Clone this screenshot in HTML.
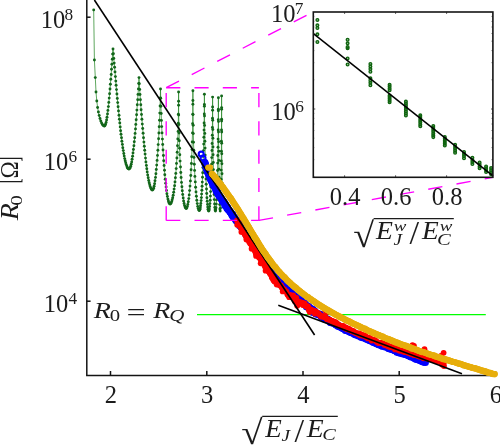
<!DOCTYPE html>
<html lang="en"><head><meta charset="utf-8"><title>R0 vs sqrt(EJ/EC)</title>
<style>html,body{margin:0;padding:0;background:#fff}body{width:500px;height:445px;overflow:hidden}</style></head>
<body>
<svg width="500" height="445" viewBox="0 0 500 445" style="display:block;font-family:'Liberation Serif', 'DejaVu Serif', serif">
<defs>
<marker id="mg" markerWidth="4" markerHeight="4" refX="2" refY="2" markerUnits="userSpaceOnUse"><circle cx="2" cy="2" r="1.45" fill="#12661a"/></marker>
<marker id="mb" markerWidth="9" markerHeight="9" refX="4.5" refY="4.5" markerUnits="userSpaceOnUse"><circle cx="4.5" cy="4.5" r="2.5" fill="none" stroke="#0000ff" stroke-width="2.1"/></marker>
<marker id="mr" markerWidth="8" markerHeight="8" refX="4" refY="4" markerUnits="userSpaceOnUse"><circle cx="4" cy="4" r="2.9" fill="#ff0000"/></marker>
<marker id="my" markerWidth="8" markerHeight="8" refX="4" refY="4" markerUnits="userSpaceOnUse"><circle cx="4" cy="4" r="3.1" fill="#e7ae0c"/></marker>
<marker id="mi" markerWidth="6" markerHeight="6" refX="3" refY="3" markerUnits="userSpaceOnUse"><circle cx="3" cy="3" r="1.35" fill="#146b14" fill-opacity="0.45" stroke="#0f640f" stroke-width="1.35"/></marker>
</defs>
<rect width="500" height="445" fill="#fff"/>
<g stroke="#141414" stroke-width="1.5" fill="none">
<path d="M86.8 0V375.4H495"/>
<line x1="110.5" y1="375.4" x2="110.5" y2="371"/>
<line x1="206.8" y1="375.4" x2="206.8" y2="371"/>
<line x1="303" y1="375.4" x2="303" y2="371"/>
<line x1="399.2" y1="375.4" x2="399.2" y2="371"/>
<line x1="495.5" y1="375.4" x2="495.5" y2="371"/>
<line x1="86.8" y1="17.2" x2="90.6" y2="17.2"/>
<line x1="86.8" y1="159.2" x2="90.6" y2="159.2"/>
<line x1="86.8" y1="301.2" x2="90.6" y2="301.2"/>
</g>
<polyline points="93.7,9.9 94.4,60 95.3,77.6 96,92 96.8,101 97.6,107.5 98.4,112 99.2,115.5 100,118.5 100.8,121 101.6,123 102.4,124.4 103.2,125.4 104,125.9 104.4,126 105,125.5 105.5,124.3 106.1,122.4 106.6,120 107,117.2 107.5,114 107.9,110.4 108.4,106.6 108.8,102.4 109.2,98.1 109.6,93.8 110,89 110.4,84.2 110.8,79.3 111.2,74.5 111.5,69.3 111.9,64.3 112.3,59.3 112.6,54.1 113,49 113.4,53.7 113.8,58.4 114.2,63.1 114.6,67.3 115,71.9 115.4,76.6 115.8,81.1 116.1,85.2 116.5,89.6 116.9,94 117.3,98.4 117.7,102.6 118.1,106.8 118.5,110.9 119,115.3 119.4,119.2 119.8,122.9 120.2,126.9 120.6,130.8 121,134.2 121.5,137.8 121.9,141.2 122.4,144.4 122.8,147.7 123.3,150.6 123.8,153.5 124.2,156.1 124.7,158.6 125.2,160.7 125.7,162.8 126.2,164.6 126.8,166.1 127.3,167.4 127.8,168.2 128.4,168.8 129,169 129.6,168.6 130.2,167.7 130.7,166.2 131.2,164.2 131.7,161.9 132.1,159.2 132.6,156.3 133,152.9 133.4,149.5 133.9,145.7 134.3,141.8 134.7,137.8 135.1,133.4 135.5,128.9 135.8,124.4 136.2,119.7 136.6,114.8 136.9,110.1 137.3,104.8 137.7,99.7 138,94.4 138.4,88.9 138.7,83.4 139,77.6 139.3,83.7 139.7,89.5 140,94.5 140.4,99.7 140.8,104.8 141.1,109.7 141.5,114.5 141.9,119.2 142.3,124.1 142.7,128.5 143.1,133.2 143.5,137.7 143.9,142.1 144.3,146.3 144.7,150.3 145.1,154.1 145.5,158.1 145.9,161.9 146.4,165.4 146.8,168.8 147.2,171.9 147.7,175 148.2,177.8 148.7,180.5 149.2,182.7 149.7,184.8 150.2,186.6 150.7,188.1 151.3,189.1 151.8,189.8 152.4,190 153,189.5 153.6,188.2 154.1,186.3 154.6,183.8 155,180.8 155.5,177.4 155.9,173.7 156.3,169.5 156.7,165.1 157.1,160.4 157.5,155.4 157.9,150.2 158.2,144.6 158.6,138.8 158.9,133 159.2,126.7 159.5,120.3 159.8,113.1 160.1,106 160.3,98 160.5,89 160.7,98.3 160.9,106.3 161.2,113.5 161.4,120.4 161.7,126.6 162,132.9 162.4,139.1 162.7,144.5 163,150 163.4,155.5 163.7,160.7 164.1,165.5 164.5,170.3 164.8,174.8 165.2,179.2 165.7,183.3 166.1,186.9 166.5,190.4 166.9,193.7 167.4,196.5 167.9,199.1 168.4,201 168.9,202.6 169.4,203.6 170,204 170.6,203.7 171.2,202.9 171.7,201.6 172.2,199.8 172.7,197.7 173.2,195.2 173.7,192.3 174.1,189.1 174.6,185.7 175,181.9 175.4,177.7 175.8,173.4 176.2,168.6 176.5,163.4 176.9,158 177.2,152.3 177.5,145.7 177.8,138.9 178.1,131.4 178.3,123.3 178.4,114.2 178.6,101.3 178.6,92 178.6,105.2 178.7,115.1 178.9,124.6 179.1,133 179.3,140.8 179.6,148.3 179.8,154.7 180.1,161.1 180.5,167 180.8,172.5 181.1,177.5 181.5,182.4 181.9,186.7 182.3,190.8 182.7,194.5 183.2,197.9 183.6,200.9 184.1,203.5 184.6,205.6 185.1,207.1 185.6,208.1 186.2,208.5 186.8,208 187.3,206.6 187.8,204.5 188.3,201.8 188.8,198.6 189.2,194.9 189.6,190.6 190,186.1 190.4,180.9 190.8,175.5 191.1,169.7 191.4,163.5 191.7,156.7 192,149.6 192.2,141.9 192.5,132.9 192.6,123.7 192.8,114.2 192.9,100.5 192.9,90.8 192.9,104.3 193,114.6 193.2,125.2 193.3,133.6 193.5,142.2 193.8,150.2 194,157.4 194.3,164.3 194.6,170.4 194.9,176.4 195.3,181.9 195.6,187.3 196,191.9 196.4,196.3 196.8,200.2 197.3,203.6 197.7,206.4 198.2,208.6 198.7,210 199.3,210.5 199.6,210.1 200,209.2 200.3,207.7 200.5,205.7 200.8,203.4 201.1,200.6 201.4,197.6 201.6,194.1 201.9,190.3 202.1,186.2 202.3,182.1 202.5,177.3 202.7,172.7 202.9,167.6 203.2,162.1 203.3,156.4 203.5,150.6 203.7,144.1 203.9,137.3 204,130.1 204.1,123 204.3,113.9 204.4,104.4 204.4,94.3 204.4,106.2 204.5,116 204.6,125.4 204.8,133.4 204.9,141.3 205.1,148.1 205.2,155.1 205.4,161.7 205.6,167.9 205.8,173.6 206,179 206.2,184.2 206.5,189 206.7,193.5 206.9,197.7 207.2,201.2 207.5,204.4 207.7,207.1 208,209.2 208.4,210.5 208.7,211 209,210.4 209.3,208.9 209.6,206.5 209.9,203.6 210.2,200.2 210.4,196.1 210.6,191.6 210.8,186.9 211.1,181.6 211.3,176.2 211.4,170.2 211.6,164.3 211.8,157.6 212,150.5 212.1,143.5 212.3,135.3 212.4,127.4 212.5,118.3 212.6,107 212.6,97.1 212.6,110.2 212.7,120.2 212.8,129.5 212.9,138.2 213,146.9 213.1,154.8 213.3,162.5 213.4,169.6 213.6,176.5 213.7,183.1 213.9,189.1 214.1,194.5 214.3,199.6 214.6,204 214.8,207.5 215.1,210 215.4,211 215.7,210 216,207.7 216.3,204.1 216.5,199.9 216.8,195 217,189.5 217.2,183.5 217.3,177.3 217.5,170.5 217.7,163.1 217.8,155.5 218,147.2 218.1,139.1 218.2,130 218.3,119.8 218.4,109.2 218.4,97.7 218.4,110.7 218.5,121.6 218.5,132 218.6,141.8 218.7,151.3 218.8,160.5 218.9,169.2 219,177.3 219.2,185 219.3,192.3 219.5,198.8 219.7,204.6 219.9,209 220.2,211 220.5,208.1 220.7,202.4 220.8,195.4 221,187.6 221.1,179.2 221.2,170.1 221.3,160.9 221.4,151.2 221.4,141.2 221.5,130 221.6,119.2 221.6,107.6 221.6,95.9 221.6,109.2 221.6,121 221.7,132 221.7,143.3 221.8,153.8 221.9,163.8 222,173.8 222.1,183.1" fill="none" stroke="#2a8a2a" stroke-width="0.75" stroke-linejoin="round" marker-start="url(#mg)" marker-mid="url(#mg)" marker-end="url(#mg)"/>
<line x1="197" y1="314.6" x2="485.8" y2="314.6" stroke="#00ff00" stroke-width="1.3"/>
<polyline points="201.2,154.1 203,158.1 204.8,162.4 205,163.9 205.3,163.6 205.5,165.5 205.8,165.7 206,166.6 206.3,168.5 206.6,168.5 206.8,169.3 207.1,170.5 207.4,171.6 207.7,171.8 208,173 208.3,173 208.6,174.2 208.9,175 209.3,175.4 209.6,176.1 209.9,176.9 210.3,178.4 210.6,179.3 211,180 211.4,181.1 211.8,181.2 212.2,182.6 212.5,183.6 212.9,184.6 213.3,184.6 213.8,185.7 214.2,185.7 214.6,187.2 215,187.2 215.4,188.3 215.9,190.4 216.3,189.5 216.7,191.8 217.2,192.4 217.6,192.8 218.1,194 218.5,194.8 219,195.8 219.4,196 219.9,196.6 220.4,197.3 220.9,197.9 221.3,199.1 221.8,199.5 222.3,201.2 222.8,200.5 223.3,201.6 223.8,202.4 224.3,202.6 224.8,205.4 225.3,204 225.8,205.8 226.3,206.4 226.9,208.2 227.4,207.1 227.9,209.4 228.4,209.2 228.9,210.2 229.5,210.7 230,212.1 230.5,211.9 231.1,213.2 231.6,214.1 232.1,215.6 232.7,214.2 233.2,216.9 233.7,217.3 234.3,217.3 234.8,218.4 235.3,218.8 235.9,220.5 236.4,220.6 236.9,221.1 237.5,221.8 238,222.5 238.5,223.3 239.1,223.6 239.6,225.8 240.1,224.6 240.6,224.5 241.2,227 241.7,227.7 242.2,228.7 242.7,229.1 243.2,229.9 243.8,230.8 244.3,231.9 244.8,231.9 245.3,232.7 245.8,234.6 246.4,234.6 246.9,234.6 247.4,237 247.9,237 248.4,237 248.9,237.5 249.5,238.9 250,239.1 250.5,239.7 251,240.4 251.5,241.5 252,243 252.5,243 253.1,243.2 253.6,245 254.1,245.5 254.6,246.6 255.1,247.5 255.6,247.6 256.2,248.3 256.7,249.1 257.2,249.3 257.7,250.9 258.2,252 258.7,252.1 259.3,252.7 259.8,253.4 260.3,253.9 260.8,254.6 261.4,255.5 261.9,256 262.4,257 262.9,257.1 263.5,258.8 264,259.4 264.5,259.5 265,259.7 265.6,261.6 266.1,262.8 266.6,262.6 267.2,263.5 267.7,264.2 268.2,265.5 268.8,265.4 269.3,267.1 269.9,267.2 270.4,268.5 271,268.8 271.5,269.4 272,269.4 272.6,270.5 273.1,271.5 273.7,272.7 274.3,273.2 274.8,273.4 275.4,274.7 275.9,275.7 276.5,275.8 277.1,276.3 277.6,277 278.2,278.4 278.8,279 279.4,278.7 279.9,280.3 280.5,280.4 281.1,280.9 281.7,283 282.3,283.4 282.9,282.9 283.5,284.2 284.1,285.2 284.7,284.9 285.3,286 285.9,287.4 286.5,285.7 287.1,288.4 287.8,289.5 288.4,289.9 289,288.6 289.6,291 290.3,290.3 290.9,292.6 291.6,293.3 292.2,293.5 292.8,292.8 293.5,293.7 294.1,296.2 294.8,294.4 295.5,297 296.1,297.6 296.8,297.1 297.4,301.6 298.1,298.8 298.8,302.5 299.5,296.9 300.1,297.1 300.8,302.6 301.5,302.6 302.2,301.8 302.9,302.7 303.6,300.6 304.3,303.1 305,303.1 305.7,304.8 306.4,306.8 307.1,306.3 307.8,307.2 308.5,306.4 309.3,307.3 310,308.5 310.7,308.6 311.4,310.8 312.2,309.1 312.9,312.4 313.6,310.1 314.4,312.5 315.1,311.4 315.8,313.9 316.6,313.2 317.3,313.9 318.1,314.6 318.8,314.1 319.6,314.3 320.3,314.2 321.1,316.8 321.9,316.1 322.6,316.6 323.4,317.4 324.2,319.1 324.9,317.4 325.7,319 326.5,319.1 327.2,320.1 328,319.3 328.8,320.5 329.6,321.6 330.4,322.4 331.1,322.8 331.9,322 332.7,322.9 333.5,323.3 334.3,323.1 335.1,323.4 335.9,325 336.7,325.1 337.5,325.4 338.3,326.5 339.1,325.8 339.9,327 340.7,327.1 341.5,327.5 342.3,328.2 343.1,328.4 343.9,328.9 344.7,329.3 345.5,330.5 346.3,329.8 347.1,330.8 347.9,331 348.7,330.9 349.6,331.9 350.4,331.4 351.2,332.8 352,332.2 352.8,332.8 353.6,333.5 354.4,334.2 355.3,334.6 356.1,335 356.9,334.8 357.7,334.8 358.5,335.9 359.4,336.1 360.2,335.9 361,337.2 361.8,337.2 362.7,337 363.5,338 364.3,337.5 365.1,338.1 366,339.1 366.8,338.4 367.6,339.6 368.5,339.2 369.3,340.6 370.1,340.2 370.9,341.1 371.8,340.6 372.6,341.5 373.4,342.5 374.3,342.6 375.1,341.8 375.9,343.5 376.8,343.8 377.6,343.5 378.4,344.7 379.3,343.8 380.1,344.6 380.9,345.6 381.8,346 382.6,346.3 383.5,345.5 384.3,345.5 385.1,346.9 386,346.3 386.8,347.3 387.6,347 388.5,348.5 389.3,348.7 390.2,348.9 391,349 391.8,349.3 392.7,349.5 393.5,350.1 394.4,350.4 395.2,350.8 396,350.7 396.9,352.2 397.7,351.7 398.6,352.6 399.4,352.9 400.2,352.1 401.1,352 401.9,353.8 402.8,353.3 403.6,353.9 404.4,354 405.3,354.5 406.1,354.2 407,355.1 407.8,355.2 408.6,355.8 409.5,354.9 410.3,356.8 411.2,356.9 412,356.2 412.8,357 413.7,357.7 414.5,358.4 415.3,358.4 416.2,359.4 417,359 417.9,358.9 418.7,359.4 419.5,360.4 420.4,360 421.2,361.1 422,361.5 422.9,361.6 423.7,362.2 424.6,361.9 425.4,362.4" fill="none" stroke="none" marker-start="url(#mb)" marker-mid="url(#mb)" marker-end="url(#mb)"/>
<polyline points="237,220.3 237.5,221.2 238,221.5 238.5,222.9 237.2,224.8 239.5,224.2 240,225.9 240.5,226.9 241,227.4 241.6,229.2 242.1,229.8 242.6,230.7 243.1,230.7 241.4,231.9 244.1,233 244.6,233.7 245.1,234.8 245.6,235.5 246.1,236.8 246.6,236.9 247.1,238.2 247.7,238.2 246.4,239.6 248.7,240.2 249.2,242.1 249.7,241.2 250.2,243.6 250.8,243.5 251.3,244.5 251.8,245.6 252.3,246.6 251.6,248.7 253.4,248.2 253.9,249.2 254.4,250.3 255,250.3 255.5,252.4 256,253.4 256.5,254.6 257.1,253.3 256.1,255.9 258.2,254.7 258.7,256.8 259.2,257.7 259.8,257.6 260.3,258.2 260.9,260 261.4,261.1 262,261.2 260.7,263.3 263.1,261.9 263.7,263.7 264.3,265 264.8,265.8 265.4,267.4 266,266.7 266.6,266.9 267.1,269.2 265.6,270.7 268.3,270.8 268.9,271.8 269.5,272.6 270.1,273.8 270.7,274.6 271.3,273.7 271.9,275.4 272.5,277.3 271.8,277.6 273.8,278.3 274.4,278.5 275,279.1 275.7,281 276.3,281.5 276.9,281.5 277.6,283 278.2,282.3 276.7,284.6 279.6,285.3 280.2,285.4 280.9,285.4 281.6,287.2 282.3,287.9 282.9,289.3 283.6,289.8 284.3,289.5 282.7,291.4 285.8,291.1 286.5,291.7 287.2,294 287.9,294.9 288.7,295.4 289.4,295 290.2,295 290.9,297 289.2,297.2 292.5,297.5 293.2,295.4 294,297.8 294.8,301.3 295.6,298 296.4,297.8 297.2,300.6 298,304.4 297.2,305.8 299.6,302 300.4,302.4 301.2,303.6 302.1,302.6 302.9,305 303.7,304.9 304.6,303.3 305.4,305.5 306.3,306.6 307.1,306.2 308,306.3 308.8,310.1 309.7,312 310.5,309.3 311.4,309.6 312.3,311.3 313.1,310.9 314,310.7 314.9,313.7 315.8,311.5 316.6,312.4 317.5,313 318.4,313.3 319.3,314.4 320.2,315.5 321,316.6 321.9,316.4 322.8,316.5 323.7,316.1 324.6,317.3 325.4,317.3 326.3,318.3 327.2,319.4 328.1,319.4 329,319.6 329.9,319.7 330.8,320.6 331.7,321.1 332.5,321 333.4,321.7 334.3,322.9 335.2,322 336.1,323.1 337,323.2 337.9,325.1 338.8,325 339.7,325.4 340.6,325.8 341.5,326.2 342.4,326.6 343.3,326 344.2,327.5 345.1,328.1 346,327.4 346.9,329.1 347.8,329.4 348.7,328.6 349.6,329.6 350.5,330.2 351.4,330.5 352.3,331.4 353.2,330.9 354.1,331.9 355.1,332.5 356,333.2 356.9,333.3 357.8,333.5 358.7,334.4 359.6,333.4 360.5,335.4 361.4,335.1 362.4,335 363.3,335.8 364.2,335.4 365.1,335.7 366,337.1 367,337.2 367.9,338.4 368.8,337.9 369.7,338.1 370.7,338.6 371.6,340.5 372.5,339.9 373.4,340 374.4,340.1 375.3,340.4 376.2,341.3 377.2,342 378.1,342.8 379,343.1 379.9,343 380.9,342.9 381.8,343.1 382.7,342.7 383.7,343.7 384.6,344.9 385.6,344.8 386.5,345.5 387.4,344.9 388.4,346.5 389.3,346.5 390.3,346.7 391.2,347.3 392.1,346.1 393.1,347.4 394,347.5 395,349.4 395.9,348.6 396.9,348.7 397.8,349.8 398.8,349.1 399.7,350.8 400.7,349.9 401.6,350.6 402.6,350.4 403.5,351.7 404.5,350.3 405.4,352.2 406.4,351.7 407.3,352.5 408.3,352.1 409.2,353.2 410.2,353.4 411.1,353.9 412.1,354.1 413,354.5 414,355 415,354.6 415.9,354.4 416.9,354.6 417.8,356 418.8,355.7 419.8,356.7 420.7,356.4 421.7,356.1 422.7,357.4 423.6,358.3 424.6,357.4 425.6,357.2 426.5,357.5 427.5,358.7 428.5,358.2 429.4,358.5 430.4,359.4 431.4,359.2 432.3,359.5 433.3,359.4 434.3,359.6 435.3,360.3 436.2,360.5 437.2,361 438.2,360.6 439.1,361.3 440.1,361.6 441.1,361.6 442.1,362.1 443,362.5 444,362.3 273.7,280.5 274.5,281.5 273,279.3 443.6,352.8 441,356 444,366 442,364.5 268,264 256,246.5 257.5,249.5 399,345.5 401,346 418,351.5 325,310 327,312 412.5,345.2 424.5,349.2 414,346" fill="none" stroke="none" marker-start="url(#mr)" marker-mid="url(#mr)" marker-end="url(#mr)"/>
<line x1="94.4" y1="0" x2="314.6" y2="335" stroke="#000" stroke-width="1.6"/>
<line x1="278.3" y1="305.2" x2="462" y2="373.8" stroke="#000" stroke-width="1.5"/>
<polyline points="208.2,167.6 210,167.7 211.8,173.7 212.4,174.4 213,174.8 213.6,175.6 214.2,176.4 214.8,176.9 215.3,177.4 215.9,178.4 216.5,179.1 217.1,179.9 217.6,180.5 218.2,181.2 218.7,182 219.3,182.8 219.9,183.4 220.4,184.1 221,184.7 221.5,185.7 222,186.2 222.6,187 223.1,187.3 223.6,188.4 224.2,189.1 224.7,189.8 225.2,190.8 225.7,191.4 226.3,192 226.8,192.7 227.3,193.8 227.8,194.4 228.3,195.1 228.8,195.6 229.3,196.7 229.9,197.3 230.4,197.9 230.9,198.7 231.4,199.2 231.9,200.3 232.4,200.8 232.9,201.8 233.3,202.4 233.8,203.1 234.3,204 234.8,204.7 235.3,205.3 235.8,206.2 236.3,207.1 236.8,207.7 237.2,208.3 237.7,209.2 238.2,209.9 238.7,210.7 239.2,211.6 239.6,212.3 240.1,213 240.6,213.6 241.1,214.7 241.5,215.3 242,216.1 242.5,216.9 243,218 243.4,218.2 243.9,219 244.4,220.1 244.8,220.6 245.3,221.7 245.8,222.1 246.2,223 246.7,223.9 247.2,224.7 247.6,225.4 248.1,226.2 248.6,226.9 249,227.6 249.5,228.4 250,229.4 250.4,230.1 250.9,230.8 251.3,231.6 251.8,232.4 252.3,233.3 252.7,233.8 253.2,234.6 253.7,235.4 254.1,236.5 254.6,237 255.1,237.9 255.5,238.2 256,239.4 256.5,239.8 257,240.6 257.4,241.4 257.9,242.3 258.4,243.1 258.8,243.9 259.3,244.6 259.8,245.3 260.3,246.5 260.8,246.9 261.3,247.7 261.7,248.7 262.2,249.3 262.7,250 263.2,250.7 263.7,251.7 264.2,252 264.7,252.8 265.2,253.7 265.7,254.1 266.2,255 266.7,256.1 267.2,256.6 267.7,257.4 268.3,258.2 268.8,258.7 269.3,259.6 269.8,260.2 270.4,260.8 270.9,261.7 271.5,262.4 272,263.1 272.5,263.8 273.1,264.7 273.7,265.5 274.2,266.1 274.8,266.7 275.4,267.2 275.9,268 276.5,268.6 277.1,269.5 277.7,270.3 278.3,271 278.9,271.5 279.4,272.1 280,272.9 280.7,273.5 281.3,274.3 281.9,275.1 282.5,275.4 283.1,276.5 283.7,276.5 284.4,277.2 285,277.9 285.6,278.6 286.3,279.3 286.9,280.3 287.6,280.5 288.2,281.4 288.9,281.8 289.5,282.5 290.2,282.9 290.9,284 291.5,284.3 292.2,284.8 292.9,285.8 293.6,286.1 294.2,286.7 294.9,287.2 295.6,287.7 296.3,288.2 297,288.9 297.7,289.8 298.4,290.2 299.1,290.6 299.8,291.4 300.5,291.6 301.2,292.5 301.9,292.9 302.6,293.3 303.4,294.1 304.1,294.6 304.8,295 305.5,295.6 306.3,296.3 307,296.9 307.7,297 308.4,297.3 309.2,298.5 309.9,298.7 310.7,299.2 311.4,299.8 312.1,300.2 312.9,300.9 313.6,301.1 314.4,301.7 315.1,302.1 315.9,303 316.6,303.2 317.4,303.9 318.1,304.4 318.9,304.5 319.7,305.2 320.4,305.8 321.2,306.2 322,306.6 322.7,307.2 323.5,307.7 324.3,307.9 325,308.5 325.8,309 326.6,309.4 327.4,309.9 328.1,310.1 328.9,311 329.7,311.2 330.5,311.7 331.3,312.1 332.1,312.5 332.8,313 333.6,313.3 334.4,313.9 335.2,314.4 336,314.8 336.8,315.2 337.6,315.6 338.4,316 339.2,316.7 340,316.7 340.8,317.3 341.6,317.8 342.3,318.1 343.1,318.3 343.9,318.8 344.7,319.6 345.5,319.6 346.3,320.2 347.2,320.6 348,321 348.8,321.1 349.6,321.5 350.4,322.2 351.2,322.5 352,322.9 352.8,323.4 353.6,323.8 354.4,324 355.2,324.3 356,325.1 356.8,325.2 357.6,325.6 358.5,325.8 359.3,326.6 360.1,326.7 360.9,327.1 361.7,327.7 362.5,328.1 363.3,328.5 364.2,328.6 365,328.7 365.8,329.4 366.6,329.9 367.4,330.2 368.3,330.8 369.1,331.1 369.9,331.2 370.7,331.8 371.6,332.1 372.4,332.4 373.2,333 374,332.9 374.8,333.7 375.7,334.1 376.5,334 377.3,334.6 378.2,334.9 379,335.2 379.8,335.6 380.6,335.9 381.5,336.4 382.3,336.6 383.1,336.7 384,337.6 384.8,337.9 385.6,338 386.5,338.6 387.3,339.1 388.1,338.9 389,339.4 389.8,339.7 390.6,340.2 391.5,340.4 392.3,340.6 393.2,341.3 394,341.4 394.8,341.9 395.7,342.4 396.5,342.3 397.3,342.7 398.2,343.2 399,343.4 399.9,343.8 400.7,344 401.6,344.8 402.4,344.7 403.2,345 404.1,345.3 404.9,345.6 405.8,345.7 406.6,346.2 407.5,346.6 408.3,346.7 409.2,347.1 410,347.4 410.8,347.7 411.7,348.4 412.5,348.5 413.4,348.7 414.2,348.8 415.1,349.3 415.9,349.5 416.8,349.9 417.6,350.2 418.5,350.8 419.3,351 420.2,351.3 421,351.6 421.9,352.1 422.7,351.8 423.6,352 424.4,352.5 425.3,352.8 426.1,353.1 427,353.3 427.8,353.8 428.7,354.2 429.6,354.3 430.4,354.5 431.3,355 432.1,355 433,355.3 433.8,355.7 434.7,355.6 435.5,356.5 436.4,356.5 437.2,356.8 438.1,357.1 439,357.4 439.8,357.4 440.7,358.1 441.5,358.2 442.4,358.5 443.2,359.2 444.1,358.8 445,359.4 445.8,359.5 446.7,359.6 447.5,360.3 448.4,360.1 449.3,360.6 450.1,360.9 451,361.2 451.8,361.3 452.7,361.9 453.5,362 454.4,362 455.3,362.3 456.1,362.8 457,362.8 457.8,363.3 458.7,363.6 459.6,363.7 460.4,363.8 461.3,364.1 462.1,364.6 463,364.8 463.9,365.4 464.7,365.3 465.6,365.7 466.5,366 467.3,366.2 468.2,366.5 469,366.8 469.9,366.9 470.8,367.2 471.6,367.4 472.5,368 473.4,368 474.2,368.3 475.1,368 475.9,368.7 476.8,368.8 477.7,369.3 478.5,369.4 479.4,369.6 480.2,370 481.1,370.4 482,370.7 482.8,370.7 483.7,371.2 484.6,371.2 485.4,371.7 486.3,371.7 487.1,372.2 488,372.7 488.9,372.5 489.7,373 490.6,372.9 491.5,373.3 492.3,374 493.2,373.9 494,374.2 494.9,374.1" fill="none" stroke="none" marker-start="url(#my)" marker-mid="url(#my)" marker-end="url(#my)"/>
<g stroke="#ff00ff" stroke-width="1.35" fill="none">
<line x1="166.2" y1="87.7" x2="258.9" y2="87.7" stroke-dasharray="14.15 14.15"/>
<line x1="166.2" y1="220.4" x2="258.9" y2="220.4" stroke-dasharray="14.15 14.15"/>
<line x1="166.2" y1="220.4" x2="166.2" y2="87.7" stroke-dasharray="14.15 14.15"/>
<line x1="258.9" y1="220.4" x2="258.9" y2="87.7" stroke-dasharray="14.15 14.15"/>
<line x1="166.2" y1="87.7" x2="313.3" y2="11.9" stroke-dasharray="14.35 14.35"/>
<line x1="258.9" y1="220.4" x2="493" y2="177.3" stroke-dasharray="14.35 14.35"/>
</g>
<rect x="313.3" y="11.9" width="179.7" height="165.4" fill="#fff" stroke="none"/>
<polyline points="317.4,19.9 317.4,25.3 317.4,28 317.4,34.3 317.4,42 347.6,39.7 347.6,43.3 347.6,46.9 347.6,48.3 347.6,58.5 347.6,64.5 370.4,63.9 370.4,66.6 370.4,69 370.4,71.7 370.4,78.3 370.4,80.5 370.4,82.8 370.4,85.2 389.6,84.8 389.6,86.6 389.6,88.5 389.6,90.3 389.6,95.4 389.6,97.1 389.6,98.8 389.6,100.6 389.6,102.3 405.9,101.6 405.9,103.6 405.9,105.6 405.9,107.6 405.9,109.5 405.9,111.5 405.9,113.5 405.9,115.5 420.3,115.3 420.3,117.1 420.3,119 420.3,120.8 420.3,122.6 420.3,124.5 420.3,126.3 433.3,126.1 433.3,127.9 433.3,129.8 433.3,131.6 433.3,133.4 433.3,135.3 433.3,137.1 444.8,136.9 444.8,138.6 444.8,140.3 444.8,142.1 444.8,143.8 444.8,145.5 455.1,144.8 455.1,146.8 455.1,148.8 455.1,150.7 455.1,152.7 464,152 464,154.1 464,156.1 464,158.2 472.4,157.8 472.4,159.9 472.4,161.9 472.4,164 479.6,162.5 479.6,164.4 479.6,166.4 479.6,168.3 486.1,166.5 486.1,168.3 486.1,170.1 486.1,171.9 491.1,168.1 491.1,170.2 491.1,172.2 491.1,174.3" fill="none" stroke="none" marker-start="url(#mi)" marker-mid="url(#mi)" marker-end="url(#mi)"/>
<line x1="313.4" y1="33.6" x2="493" y2="175.8" stroke="#000" stroke-width="1.5"/>
<rect x="313.3" y="12" width="179.6" height="165.3" stroke="#151515" stroke-width="1.6" fill="none"/>
<g stroke="#222" stroke-width="0.8">
<line x1="344.6" y1="177.3" x2="344.6" y2="175.3"/><line x1="344.6" y1="11.9" x2="344.6" y2="13.9"/>
<line x1="395.6" y1="177.3" x2="395.6" y2="175.3"/><line x1="395.6" y1="11.9" x2="395.6" y2="13.9"/>
<line x1="446.6" y1="177.3" x2="446.6" y2="175.3"/><line x1="446.6" y1="11.9" x2="446.6" y2="13.9"/>
<line x1="313.3" y1="176.8" x2="314.4" y2="176.8" stroke-opacity="0.6"/><line x1="493" y1="176.8" x2="491.6" y2="176.8"/>
<line x1="313.3" y1="79.8" x2="314.4" y2="79.8" stroke-opacity="0.6"/><line x1="493" y1="79.8" x2="491.6" y2="79.8"/>
<line x1="313.3" y1="159.7" x2="314.4" y2="159.7" stroke-opacity="0.6"/><line x1="493" y1="159.7" x2="491.6" y2="159.7"/>
<line x1="313.3" y1="62.7" x2="314.4" y2="62.7" stroke-opacity="0.6"/><line x1="493" y1="62.7" x2="491.6" y2="62.7"/>
<line x1="313.3" y1="147.6" x2="314.4" y2="147.6" stroke-opacity="0.6"/><line x1="493" y1="147.6" x2="491.6" y2="147.6"/>
<line x1="313.3" y1="50.6" x2="314.4" y2="50.6" stroke-opacity="0.6"/><line x1="493" y1="50.6" x2="491.6" y2="50.6"/>
<line x1="313.3" y1="138.2" x2="314.4" y2="138.2" stroke-opacity="0.6"/><line x1="493" y1="138.2" x2="491.6" y2="138.2"/>
<line x1="313.3" y1="41.2" x2="314.4" y2="41.2" stroke-opacity="0.6"/><line x1="493" y1="41.2" x2="491.6" y2="41.2"/>
<line x1="313.3" y1="130.5" x2="314.4" y2="130.5" stroke-opacity="0.6"/><line x1="493" y1="130.5" x2="491.6" y2="130.5"/>
<line x1="313.3" y1="33.5" x2="314.4" y2="33.5" stroke-opacity="0.6"/><line x1="493" y1="33.5" x2="491.6" y2="33.5"/>
<line x1="313.3" y1="124" x2="314.4" y2="124" stroke-opacity="0.6"/><line x1="493" y1="124" x2="491.6" y2="124"/>
<line x1="313.3" y1="27" x2="314.4" y2="27" stroke-opacity="0.6"/><line x1="493" y1="27" x2="491.6" y2="27"/>
<line x1="313.3" y1="118.4" x2="314.4" y2="118.4" stroke-opacity="0.6"/><line x1="493" y1="118.4" x2="491.6" y2="118.4"/>
<line x1="313.3" y1="21.4" x2="314.4" y2="21.4" stroke-opacity="0.6"/><line x1="493" y1="21.4" x2="491.6" y2="21.4"/>
<line x1="313.3" y1="113.4" x2="314.4" y2="113.4" stroke-opacity="0.6"/><line x1="493" y1="113.4" x2="491.6" y2="113.4"/>
<line x1="313.3" y1="16.4" x2="314.4" y2="16.4" stroke-opacity="0.6"/><line x1="493" y1="16.4" x2="491.6" y2="16.4"/>
<line x1="313.3" y1="109" x2="315.3" y2="109"/><line x1="493" y1="109" x2="491" y2="109"/>
</g>
<text x="40.80" y="27.80" font-size="24.5" text-anchor="start" fill="#1c1c1c">10</text><text x="64.50" y="19.90" font-size="17.3" text-anchor="start" fill="#1c1c1c">8</text>
<text x="43.80" y="169.70" font-size="24.5" text-anchor="start" fill="#1c1c1c">10</text><text x="68.40" y="161.80" font-size="17.3" text-anchor="start" fill="#1c1c1c">6</text>
<text x="43.80" y="311.70" font-size="24.5" text-anchor="start" fill="#1c1c1c">10</text><text x="68.40" y="303.80" font-size="17.3" text-anchor="start" fill="#1c1c1c">4</text>
<text x="271.10" y="22.30" font-size="24.5" text-anchor="start" fill="#1c1c1c">10</text><text x="294.80" y="14.40" font-size="17.3" text-anchor="start" fill="#1c1c1c">7</text>
<text x="271.20" y="119.50" font-size="24.5" text-anchor="start" fill="#1c1c1c">10</text><text x="295.20" y="111.60" font-size="17.3" text-anchor="start" fill="#1c1c1c">6</text>
<text x="110.90" y="402.60" font-size="24.5" text-anchor="middle" fill="#1c1c1c">2</text>
<text x="207.15" y="402.60" font-size="24.5" text-anchor="middle" fill="#1c1c1c">3</text>
<text x="303.40" y="402.60" font-size="24.5" text-anchor="middle" fill="#1c1c1c">4</text>
<text x="399.65" y="402.60" font-size="24.5" text-anchor="middle" fill="#1c1c1c">5</text>
<text x="495.90" y="402.60" font-size="24.5" text-anchor="middle" fill="#1c1c1c">6</text>
<text x="345.10" y="204.60" font-size="24.5" text-anchor="middle" fill="#1c1c1c">0.4</text>
<text x="396.10" y="204.60" font-size="24.5" text-anchor="middle" fill="#1c1c1c">0.6</text>
<text x="447.10" y="204.60" font-size="24.5" text-anchor="middle" fill="#1c1c1c">0.8</text>
<g transform="translate(18,220.5) rotate(-90)">
<text transform="translate(0.15,0.00) scale(1.139,1)" font-size="24.6" font-style="italic" fill="#1c1c1c">R</text>
<text transform="translate(14.79,3.80) scale(1.287,1)" font-size="16.5" fill="#1c1c1c">0</text>
<text transform="translate(37.23,0.00) scale(0.486,1)" font-size="29.6" fill="#1c1c1c">[</text>
<text transform="translate(41.90,0.00) scale(0.907,1)" font-size="25.5" fill="#1c1c1c">Ω</text>
<text transform="translate(58.98,0.00) scale(0.486,1)" font-size="29.6" fill="#1c1c1c">]</text>
</g>
<text transform="translate(93.75,317.80) scale(1.163,1)" font-size="24.1" font-style="italic" fill="#1c1c1c">R</text>
<text transform="translate(109.81,321.40) scale(1.282,1)" font-size="16.2" fill="#1c1c1c">0</text>
<text transform="translate(126.51,320.10) scale(1.415,1)" font-size="24" fill="#1c1c1c">=</text>
<text transform="translate(153.35,317.80) scale(1.163,1)" font-size="24.1" font-style="italic" fill="#1c1c1c">R</text>
<text transform="translate(169.24,321.40) scale(1.256,1)" font-size="16.7" font-style="italic" fill="#1c1c1c">Q</text>
<text transform="translate(241.23,443.80) scale(1.127,1)" font-size="34.6" fill="#1c1c1c">√</text>
<line x1="262.2" y1="416.4" x2="337.8" y2="416.4" stroke="#1c1c1c" stroke-width="1.1"/>
<text transform="translate(265.32,437.40) scale(1.082,1)" font-size="25" font-style="italic" fill="#1c1c1c">E</text>
<text transform="translate(281.51,440.80) scale(1.125,1)" font-size="17.1" font-style="italic" fill="#1c1c1c">J</text>
<text transform="translate(294.60,441.90) scale(1.016,1)" font-size="34" fill="#1c1c1c">/</text>
<text transform="translate(306.72,437.40) scale(1.108,1)" font-size="25" font-style="italic" fill="#1c1c1c">E</text>
<text transform="translate(322.27,440.40) scale(1.174,1)" font-size="17.3" font-style="italic" fill="#1c1c1c">C</text>
<text transform="translate(353.26,246.60) scale(1.082,1)" font-size="35" fill="#1c1c1c">√</text>
<line x1="373.6" y1="218.6" x2="453.8" y2="218.6" stroke="#1c1c1c" stroke-width="1.1"/>
<text transform="translate(376.12,239.00) scale(1.131,1)" font-size="24.5" font-style="italic" fill="#1c1c1c">E</text>
<text transform="translate(393.75,230.50) scale(1.258,1)" font-size="15" font-style="italic" fill="#1c1c1c">w</text>
<text transform="translate(393.51,245.40) scale(1.125,1)" font-size="17.1" font-style="italic" fill="#1c1c1c">J</text>
<text transform="translate(409.60,244.30) scale(1.016,1)" font-size="34" fill="#1c1c1c">/</text>
<text transform="translate(421.92,239.00) scale(1.117,1)" font-size="24.5" font-style="italic" fill="#1c1c1c">E</text>
<text transform="translate(439.75,230.50) scale(1.258,1)" font-size="15" font-style="italic" fill="#1c1c1c">w</text>
<text transform="translate(437.05,245.40) scale(1.192,1)" font-size="17.3" font-style="italic" fill="#1c1c1c">C</text>
</svg>
</body></html>
